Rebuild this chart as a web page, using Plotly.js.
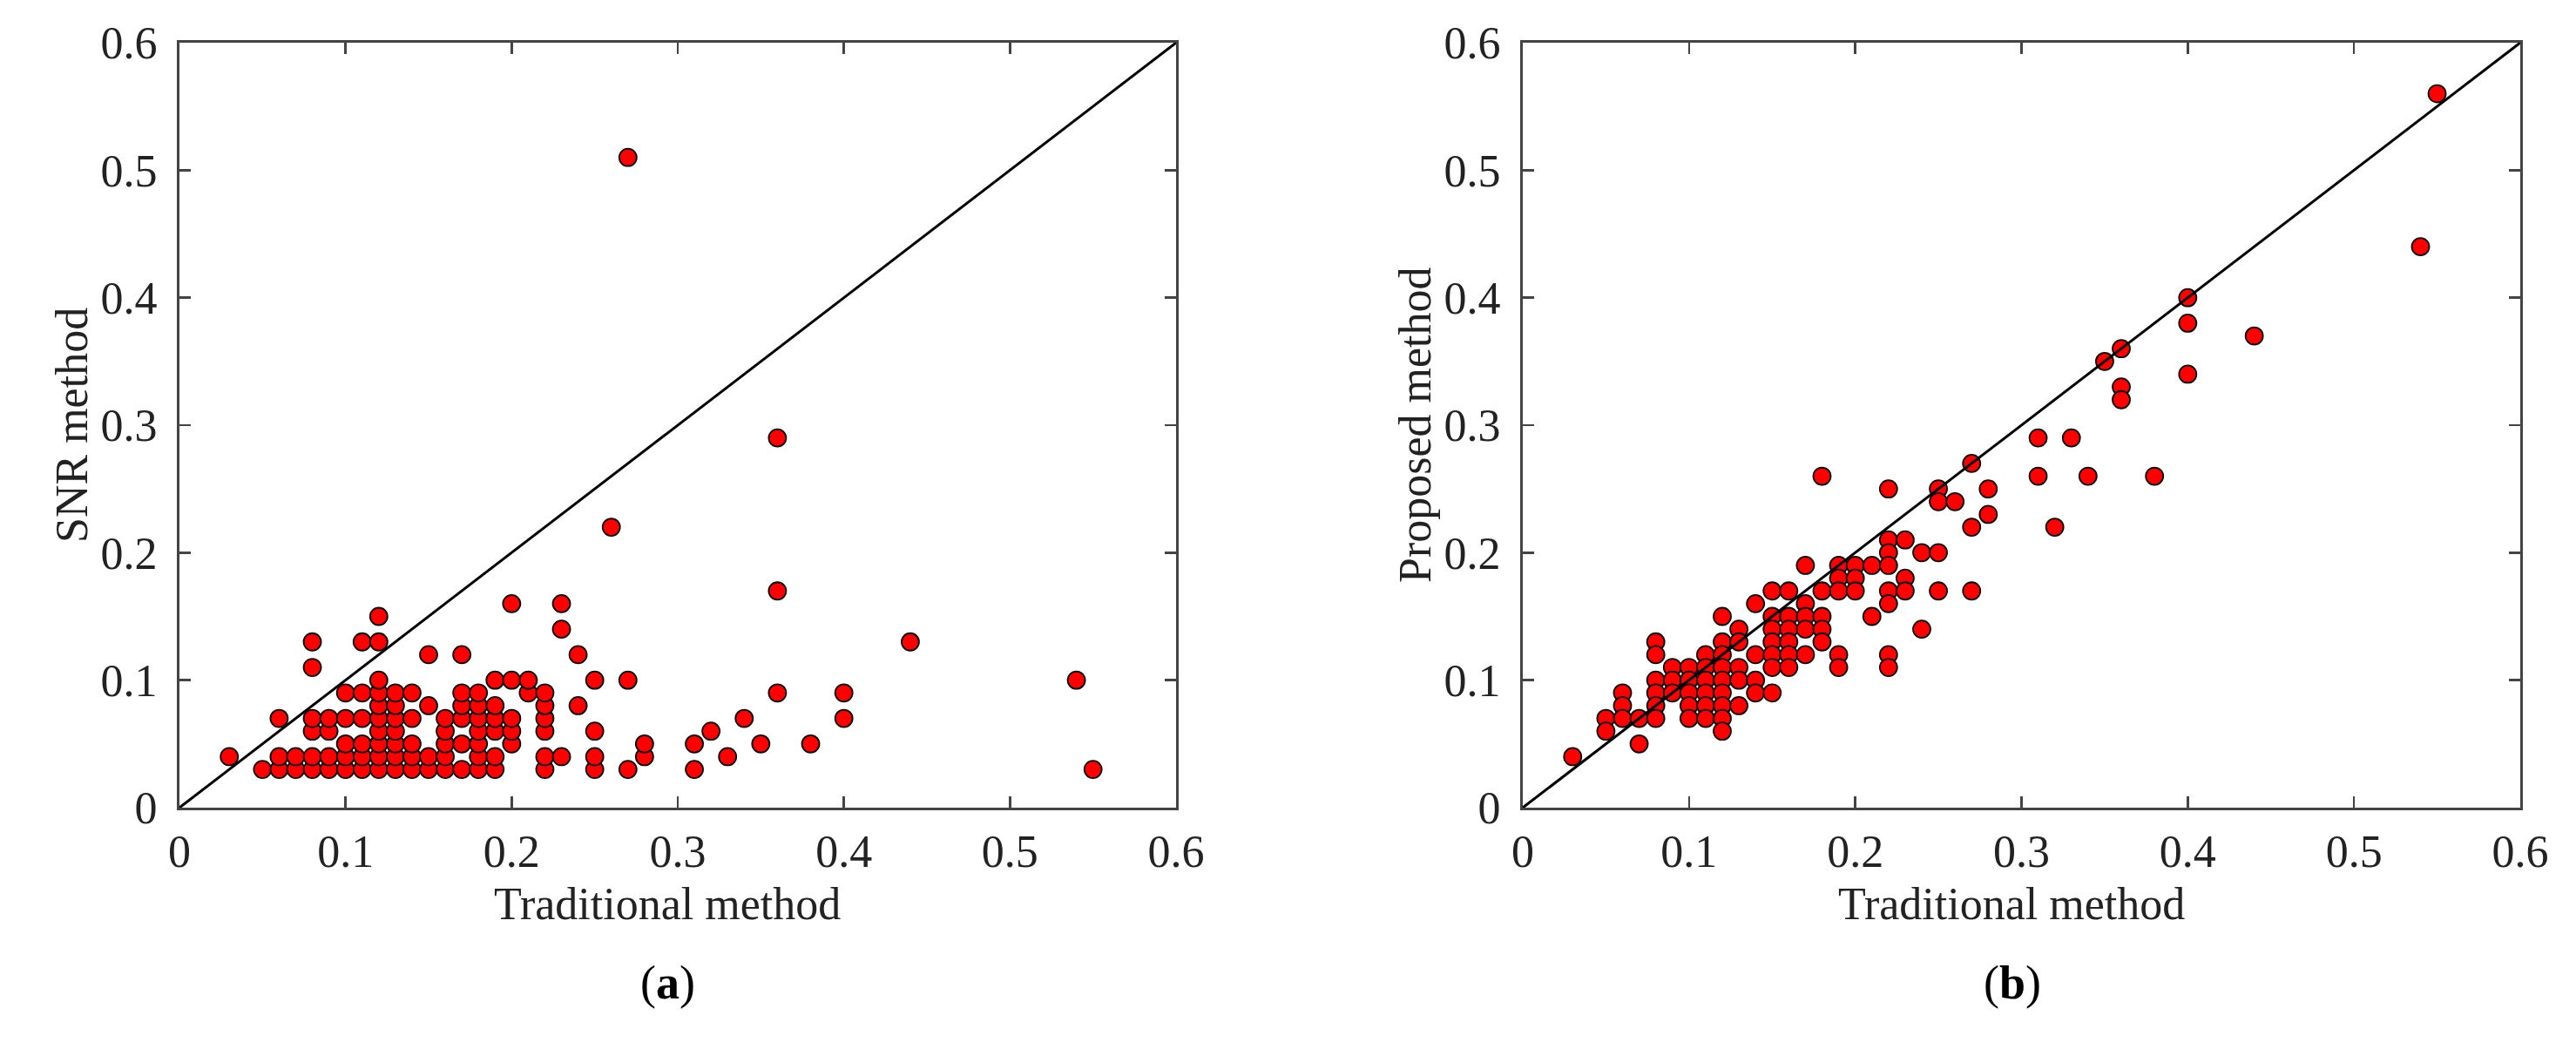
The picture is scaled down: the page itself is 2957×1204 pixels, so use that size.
<!DOCTYPE html>
<html>
<head>
<meta charset="utf-8">
<script src="https://cdn.plot.ly/plotly-3.0.1.min.js"></script>
<style>
  html, body { margin: 0; padding: 0; background: #ffffff; }
  #chart { width: 2957px; height: 1204px; }
</style>
</head>
<body>
<div id="chart"></div>
<script>
// (a) traditional method vs SNR method
var tradA = [
  0.05,0.06,0.07,0.08,0.09,0.10,0.11,0.12,0.13,0.14,0.15,0.16,0.17,0.18,0.19,0.22,0.25,0.27,0.31,0.55,
  0.03,0.06,0.07,0.08,0.09,0.10,0.11,0.12,0.13,0.14,0.15,0.16,0.18,0.19,0.22,0.23,0.25,0.28,0.33,
  0.10,0.11,0.12,0.13,0.14,0.16,0.17,0.18,0.20,0.28,0.31,0.35,0.38,
  0.08,0.09,0.12,0.13,0.16,0.18,0.19,0.20,0.22,0.25,0.32,
  0.06,0.08,0.09,0.10,0.11,0.12,0.13,0.14,0.16,0.17,0.18,0.19,0.20,0.22,0.34,0.40,
  0.12,0.13,0.15,0.17,0.18,0.19,0.22,0.24,
  0.10,0.11,0.12,0.13,0.14,0.17,0.18,0.21,0.22,0.36,0.40,
  0.12,0.19,0.20,0.21,0.25,0.27,0.54,
  0.08, 0.15,0.17,0.24, 0.08,0.11,0.12,0.44, 0.23, 0.12, 0.20,0.23, 0.36, 0.26, 0.36, 0.27
];
var snrA = [
  0.03,0.03,0.03,0.03,0.03,0.03,0.03,0.03,0.03,0.03,0.03,0.03,0.03,0.03,0.03,0.03,0.03,0.03,0.03,0.03,
  0.04,0.04,0.04,0.04,0.04,0.04,0.04,0.04,0.04,0.04,0.04,0.04,0.04,0.04,0.04,0.04,0.04,0.04,0.04,
  0.05,0.05,0.05,0.05,0.05,0.05,0.05,0.05,0.05,0.05,0.05,0.05,0.05,
  0.06,0.06,0.06,0.06,0.06,0.06,0.06,0.06,0.06,0.06,0.06,
  0.07,0.07,0.07,0.07,0.07,0.07,0.07,0.07,0.07,0.07,0.07,0.07,0.07,0.07,0.07,0.07,
  0.08,0.08,0.08,0.08,0.08,0.08,0.08,0.08,
  0.09,0.09,0.09,0.09,0.09,0.09,0.09,0.09,0.09,0.09,0.09,
  0.10,0.10,0.10,0.10,0.10,0.10,0.10,
  0.11, 0.12,0.12,0.12, 0.13,0.13,0.13,0.13, 0.14, 0.15, 0.16,0.16, 0.17, 0.22, 0.29, 0.51
];

// (b) traditional method vs proposed method
var tradB = [
  0.03, 0.05,0.05, 0.06,0.06,0.06, 0.07,0.07,
  0.08,0.08,0.08,0.08,0.08,0.08, 0.09,0.09,0.09,
  0.10,0.10,0.10,0.10,0.10, 0.11,0.11,0.11,0.11,0.11,0.11,
  0.12,0.12,0.12,0.12,0.12,0.12,0.12,0.12,0.12,
  0.13,0.13,0.13,0.13,0.13, 0.14,0.14,0.14,0.14,
  0.15,0.15,0.15,0.15,0.15,0.15,0.15, 0.16,0.16,0.16,0.16,0.16,0.16,
  0.17,0.17,0.17,0.17,0.17, 0.18,0.18,0.18,0.18,0.18,
  0.19,0.19,0.19,0.19,0.19, 0.20,0.20,0.20, 0.21,0.21,
  0.22,0.22,0.22,0.22,0.22,0.22,0.22,0.22, 0.23,0.23,0.23, 0.24,0.24,
  0.25,0.25,0.25,0.25, 0.26, 0.27,0.27,0.27, 0.28,0.28,
  0.31,0.31, 0.32, 0.33, 0.34, 0.35, 0.36,0.36,0.36, 0.38,
  0.40,0.40,0.40, 0.44, 0.54, 0.55
];
var propB = [
  0.04, 0.07,0.06, 0.09,0.08,0.07, 0.07,0.05,
  0.13,0.12,0.10,0.09,0.08,0.07, 0.11,0.10,0.09,
  0.11,0.10,0.09,0.08,0.07, 0.12,0.11,0.10,0.09,0.08,0.07,
  0.15,0.13,0.12,0.11,0.10,0.09,0.08,0.07,0.06,
  0.14,0.13,0.11,0.10,0.08, 0.16,0.12,0.10,0.09,
  0.17,0.15,0.14,0.13,0.12,0.11,0.09, 0.17,0.15,0.14,0.13,0.12,0.11,
  0.19,0.16,0.15,0.14,0.12, 0.26,0.17,0.15,0.14,0.13,
  0.19,0.18,0.17,0.12,0.11, 0.19,0.18,0.17, 0.19,0.15,
  0.25,0.21,0.20,0.19,0.17,0.16,0.12,0.11, 0.21,0.18,0.17, 0.20,0.14,
  0.25,0.24,0.20,0.17, 0.24, 0.27,0.22,0.17, 0.25,0.23,
  0.29,0.26, 0.22, 0.29, 0.26, 0.35, 0.36,0.33,0.32, 0.26,
  0.40,0.38,0.34, 0.37, 0.44, 0.56
];

// y = x reference line
var diagX = [0, 0.6];
var diagY = [0, 0.6];

var tickVals = [0, 0.1, 0.2, 0.3, 0.4, 0.5, 0.6];
var tickText = ["0", "0.1", "0.2", "0.3", "0.4", "0.5", "0.6"];

var serif = "Liberation Serif, Times New Roman, serif";
var axisGray = "#444444";

function markerTrace(x, y, xa, ya) {
  return {
    x: x, y: y, xaxis: xa, yaxis: ya,
    type: "scatter", mode: "markers", showlegend: false, hoverinfo: "x+y",
    marker: { color: "#ff0000", size: 20, line: { color: "#000000", width: 1.8 } }
  };
}
function lineTrace(xa, ya) {
  return {
    x: diagX, y: diagY, xaxis: xa, yaxis: ya,
    type: "scatter", mode: "lines", showlegend: false, hoverinfo: "skip",
    line: { color: "#000000", width: 3 }
  };
}
function axis(domain, anchor, standoff) {
  return {
    domain: domain, anchor: anchor, range: [0, 0.6],
    tickmode: "array", tickvals: tickVals, ticktext: tickText,
    ticks: "inside", ticklen: 13, tickwidth: 2.5, tickcolor: axisGray,
    showline: true, linewidth: 3, linecolor: axisGray, mirror: "ticks",
    showgrid: false, zeroline: false, fixedrange: true,
    ticklabelstandoff: standoff,
    tickfont: { family: serif, size: 52, color: "#222222" }
  };
}

var W = 2957, H = 1204;
function px(v) { return v / W; }
function py(v) { return (H - v) / H; }

var traces = [
  markerTrace(tradA, snrA, "x", "y"), lineTrace("x", "y"),
  markerTrace(tradB, propB, "x2", "y2"), lineTrace("x2", "y2")
];

var labelFont = { family: serif, size: 52, color: "#222222" };
var layout = {
  width: W, height: H,
  margin: { l: 0, r: 0, t: 0, b: 0 },
  paper_bgcolor: "#ffffff", plot_bgcolor: "#ffffff",
  xaxis: axis([px(206), px(1350)], "y", 3),
  yaxis: axis([py(927), py(49)], "x", 12),
  xaxis2: axis([px(1748), px(2893)], "y2", 3),
  yaxis2: axis([py(927), py(49)], "x2", 12),
  annotations: [
    { text: "Traditional method", xref: "paper", yref: "paper", x: px(766), y: py(1037),
      xanchor: "center", yanchor: "middle", showarrow: false, font: labelFont },
    { text: "Traditional method", xref: "paper", yref: "paper", x: px(2309), y: py(1037),
      xanchor: "center", yanchor: "middle", showarrow: false, font: labelFont },
    { text: "SNR method", xref: "paper", yref: "paper", x: px(82), y: py(488), textangle: -90,
      xanchor: "center", yanchor: "middle", showarrow: false, font: labelFont },
    { text: "Proposed method", xref: "paper", yref: "paper", x: px(1624), y: py(488), textangle: -90,
      xanchor: "center", yanchor: "middle", showarrow: false, font: labelFont },
    { text: "(<b>a</b>)", xref: "paper", yref: "paper", x: px(766), y: py(1128),
      xanchor: "center", yanchor: "middle", showarrow: false,
      font: { family: serif, size: 54, color: "#000000" } },
    { text: "(<b>b</b>)", xref: "paper", yref: "paper", x: px(2310), y: py(1128),
      xanchor: "center", yanchor: "middle", showarrow: false,
      font: { family: serif, size: 54, color: "#000000" } }
  ]
};

Plotly.newPlot("chart", traces, layout, { staticPlot: true, displayModeBar: false });
</script>
</body>
</html>
